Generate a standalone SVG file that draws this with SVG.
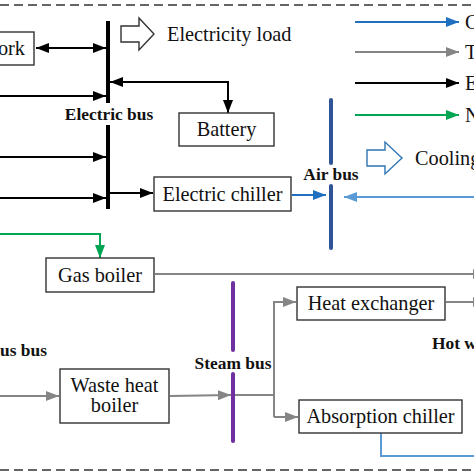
<svg xmlns="http://www.w3.org/2000/svg" width="474" height="474" viewBox="0 0 474 474">
<style>
.box{fill:#fff;stroke:#333;stroke-width:1.4}
.t{font-family:'Liberation Serif','Times New Roman','DejaVu Serif',serif;font-size:20.3px;fill:#111}
.b{font-family:'Liberation Serif','Times New Roman','DejaVu Serif',serif;font-size:17.4px;font-weight:bold;fill:#111}
.k{fill:none;stroke:#000;stroke-width:2}
.g{fill:none;stroke:#858585;stroke-width:2}
.bl{fill:none;stroke:#1f70c1;stroke-width:2}
.lb{fill:none;stroke:#5b9bd5;stroke-width:2}
.gr{fill:none;stroke:#00a651;stroke-width:2}
.dash{fill:none;stroke:#333;stroke-width:1.4;stroke-dasharray:9 5}
</style>
<defs>
<marker id="ak" markerUnits="userSpaceOnUse" markerWidth="14" markerHeight="10" refX="13" refY="5" orient="auto-start-reverse"><path d="M0,0 L13,5 L0,10 z" fill="#000"/></marker>
<marker id="ag" markerUnits="userSpaceOnUse" markerWidth="14" markerHeight="10" refX="13" refY="5" orient="auto-start-reverse"><path d="M0,0 L13,5 L0,10 z" fill="#858585"/></marker>
<marker id="abl" markerUnits="userSpaceOnUse" markerWidth="14" markerHeight="10" refX="13" refY="5" orient="auto-start-reverse"><path d="M0,0 L13,5 L0,10 z" fill="#1f70c1"/></marker>
<marker id="alb" markerUnits="userSpaceOnUse" markerWidth="14" markerHeight="10" refX="13" refY="5" orient="auto-start-reverse"><path d="M0,0 L13,5 L0,10 z" fill="#5b9bd5"/></marker>
<marker id="agr" markerUnits="userSpaceOnUse" markerWidth="14" markerHeight="10" refX="13" refY="5" orient="auto-start-reverse"><path d="M0,0 L13,5 L0,10 z" fill="#00a651"/></marker>
</defs>
<rect width="474" height="474" fill="#fff"/>
<line class="dash" x1="0" y1="5" x2="474" y2="5"/>
<line class="dash" x1="0" y1="470" x2="474" y2="470"/>

<g id="connectors">
<path class="k" d="M36,48 H106" marker-start="url(#ak)" marker-end="url(#ak)"/>
<path class="k" d="M110,82 H228 V113" marker-start="url(#ak)" marker-end="url(#ak)"/>
<path class="k" d="M0,96 H106" marker-end="url(#ak)"/>
<path class="k" d="M0,157 H106" marker-end="url(#ak)"/>
<path class="k" d="M0,198 H106" marker-end="url(#ak)"/>
<path class="k" d="M110,193 H153" marker-end="url(#ak)"/>
<path class="bl" d="M292,195 H326" marker-end="url(#abl)"/>
<path class="lb" d="M474,197 H344" marker-end="url(#alb)"/>
<path class="gr" d="M0,234 H100 V258" marker-end="url(#agr)"/>
<path class="g" d="M155,274 H486" marker-end="url(#ag)"/>
<path class="g" d="M446,302 H486" marker-end="url(#ag)"/>
<path class="g" d="M0,396 H59" marker-end="url(#ag)"/>
<path class="g" d="M170,396 L231,395" marker-end="url(#ag)"/>
<path class="g" d="M233,395 H274"/>
<path class="g" d="M274,417 V302 H296" marker-end="url(#ag)"/>
<path class="g" d="M274,417 H298" marker-end="url(#ag)"/>
<path class="lb" d="M381,433 V456 H474"/>
<path class="bl" d="M355,22 H459" marker-end="url(#abl)"/>
<path class="g" d="M355,52 H459" marker-end="url(#ag)"/>
<path class="k" d="M355,83 H459" marker-end="url(#ak)"/>
<path class="gr" d="M355,115 H459" marker-end="url(#agr)"/>
</g>

<g id="electric-bus">
<line x1="108" y1="21" x2="108" y2="103" stroke="#000" stroke-width="4"/>
<line x1="108" y1="125" x2="108" y2="209" stroke="#000" stroke-width="4"/>
<text class="b" x="109" y="120" text-anchor="middle">Electric bus</text>
</g>
<g id="air-bus">
<line x1="331" y1="100" x2="331" y2="163" stroke="#2f5597" stroke-width="4" stroke-linecap="round"/>
<line x1="331" y1="186" x2="331" y2="248" stroke="#2f5597" stroke-width="4" stroke-linecap="round"/>
<text class="b" x="331" y="180" text-anchor="middle">Air bus</text>
</g>
<g id="steam-bus">
<line x1="233" y1="283" x2="233" y2="350" stroke="#7030a0" stroke-width="4" stroke-linecap="round"/>
<line x1="233" y1="374" x2="233" y2="441" stroke="#7030a0" stroke-width="4" stroke-linecap="round"/>
<text class="b" x="233" y="369" text-anchor="middle">Steam bus</text>
</g>
<g id="gas-bus-label"><text class="b" x="0" y="356">us bus</text></g>
<g id="hot-water-label"><text class="b" x="432" y="349">Hot w</text></g>

<g id="network">
<rect class="box" x="-10" y="32" width="44" height="33"/>
<text class="t" x="25" y="55" text-anchor="end">ork</text>
</g>
<g id="electricity-load">
<polygon points="121,26 139,26 139,18 154,34 139,50 139,42 121,42" fill="#fff" stroke="#333" stroke-width="1.4"/>
<text class="t" x="167" y="41">Electricity load</text>
</g>
<g id="battery">
<rect class="box" x="179" y="113" width="95" height="33"/>
<text class="t" x="226.5" y="136" text-anchor="middle">Battery</text>
</g>
<g id="electric-chiller">
<rect class="box" x="154" y="177" width="137" height="34"/>
<text class="t" x="222.5" y="201" text-anchor="middle">Electric chiller</text>
</g>
<g id="cooling-load">
<polygon points="367,150 385,150 385,142 402,158 385,174 385,166 367,166" fill="#fff" stroke="#2e75b6" stroke-width="1.4"/>
<text class="t" x="415" y="165">Cooling</text>
</g>
<g id="gas-boiler">
<rect class="box" x="46" y="258" width="108" height="34"/>
<text class="t" x="100" y="282" text-anchor="middle">Gas boiler</text>
</g>
<g id="heat-exchanger">
<rect class="box" x="297" y="287" width="148" height="33"/>
<text class="t" x="371" y="310" text-anchor="middle">Heat exchanger</text>
</g>
<g id="waste-heat-boiler">
<rect class="box" x="60" y="369" width="109" height="54"/>
<text class="t" x="114.5" y="392" text-anchor="middle">Waste heat</text>
<text class="t" x="114.5" y="412" text-anchor="middle">boiler</text>
</g>
<g id="absorption-chiller">
<rect class="box" x="299" y="400" width="163" height="33"/>
<text class="t" x="380.5" y="423" text-anchor="middle">Absorption chiller</text>
</g>
<g id="legend">
<text class="t" x="465" y="29">C</text>
<text class="t" x="465" y="59">T</text>
<text class="t" x="465" y="90">E</text>
<text class="t" x="465" y="122">N</text>
</g>
</svg>
